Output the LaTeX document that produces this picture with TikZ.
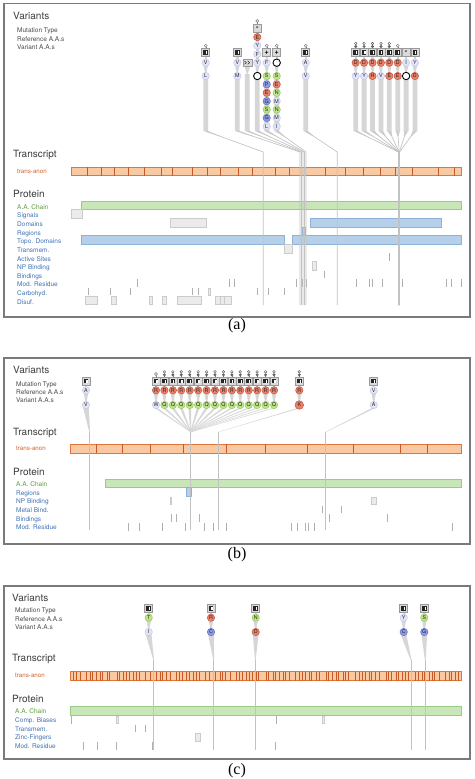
\documentclass[tikz,border=0pt]{standalone}
\usepackage{fontspec}
\setmainfont{TeX Gyre Heros}
\newfontfamily\capfont{Liberation Serif}
\definecolor{frameC}{HTML}{7A7A7A}
\definecolor{hdrC}{HTML}{3C3C3C}
\definecolor{subC}{HTML}{4A4A4A}
\definecolor{trkC}{HTML}{3F72B5}
\definecolor{chainC}{HTML}{5E9E3A}
\definecolor{txC}{HTML}{D35F28}
\definecolor{orF}{HTML}{F8C9A2}
\definecolor{orD}{HTML}{E0763A}
\definecolor{orDiv}{HTML}{C65A25}
\definecolor{grF}{HTML}{C8E6B8}
\definecolor{grD}{HTML}{98CC84}
\definecolor{blF}{HTML}{B7D0EA}
\definecolor{blD}{HTML}{8DB2DA}
\definecolor{gyF}{HTML}{EBEBEB}
\definecolor{gyD}{HTML}{CBCBCB}
\definecolor{featC}{HTML}{B0B0B0}
\definecolor{bandC}{HTML}{D6D6D6}
\definecolor{connC}{HTML}{C2C2C2}
\definecolor{redF}{HTML}{E9806A}
\definecolor{redD}{HTML}{C85840}
\definecolor{bluF}{HTML}{8E9CE8}
\definecolor{bluD}{HTML}{5D6DCC}
\definecolor{ltF}{HTML}{E2E5F8}
\definecolor{ltD}{HTML}{C3C8EC}
\definecolor{gnF}{HTML}{BFE58C}
\definecolor{gnD}{HTML}{98C95C}
\definecolor{boxF}{HTML}{DADADA}
\definecolor{boxD}{HTML}{9A9A9A}
\definecolor{pinC}{HTML}{7A7A7A}
\tikzset{
 panelframe/.style={draw=frameC, line width=1.2pt},
 captext/.style={font=\capfont\fontsize{16}{16}\selectfont},
 hdr/.style={anchor=west, inner sep=0pt, text height=7.4pt, text depth=2pt, text=hdrC, font=\fontsize{10}{10}\selectfont},
 sublab/.style={anchor=west, inner sep=0pt, text height=4.8pt, text depth=1.4pt, text=subC, font=\fontsize{6.5}{6.5}\selectfont},
 trk/.style={sublab, text=trkC},
 chn/.style={sublab, text=chainC},
 txl/.style={sublab, text=txC, font=\fontsize{6.2}{6.2}\selectfont},
 tbar/.style={fill=orF, draw=orD, line width=0.8pt},
 tdiv/.style={draw=orDiv, line width=0.6pt},
 chainbar/.style={fill=grF, draw=grD, line width=0.6pt},
 bluebox/.style={fill=blF, draw=blD, line width=0.6pt},
 graybox/.style={fill=gyF, draw=gyD, line width=0.5pt},
 feat/.style={draw=featC, line width=0.7pt},
 conn/.style={draw=connC, line width=0.65pt},
 aa/.style={circle, inner sep=0pt, minimum size=7.4pt, line width=0.5pt, text=black!85, font=\fontsize{5.3}{5.3}\selectfont},
 aar/.style={aa, fill=redF, draw=redD},
 aab/.style={aa, fill=bluF, draw=bluD},
 aal/.style={aa, fill=ltF, draw=ltD},
 aag/.style={aa, fill=gnF, draw=gnD},
 aad/.style={aa, fill=white, draw=black, line width=0.9pt},
 mbx/.style={rectangle, inner sep=0pt, minimum size=8pt, fill=boxF, draw=boxD, line width=0.5pt, font=\bfseries\fontsize{7}{7}\selectfont},
}
\newcommand\AAc[4]{\node[aa#1] at (#2,#3) {#4};}
\newcommand\MTs[2]{\fill[boxF, draw=boxD, line width=0.5pt] (#1-4,#2-4) rectangle (#1+4,#2+4);
 \fill[black!85] (#1-2.3,#2-2.3) rectangle (#1+2.3,#2+2.3);
 \fill[white] (#1+0.2,#2-1.5) rectangle (#1+1.5,#2+1.5);}
\newcommand\MTt[3]{\node[mbx] at (#1,#2) {#3};}
\newcommand\PinL[2]{\draw[pinC, line width=0.4pt] (#1,#2-4) -- (#1,#2-5.6);
 \draw[pinC, fill=white, line width=0.45pt] (#1,#2-7) circle[radius=1.5pt];}
\newcommand\PinD[2]{\draw[pinC, line width=0.4pt] (#1,#2-4) -- (#1,#2-5);
 \fill[pinC!80!black] (#1,#2-6.2) circle[radius=1.6pt];
 \draw[pinC!80!black, fill=white, line width=0.45pt] (#1,#2-9.2) circle[radius=1.3pt];}
\newcommand\Stem[4]{\fill[bandC] (#1-1.2,#2) rectangle (#1+1.2,#3);
 \fill[bandC] (#1-2.8,#3) -- (#1+2.8,#3) -- (#1,#4) -- cycle;}
\newcommand\ConnA[3]{\pgfmathsetmacro\xq{#1+(#3-#1)*5/21}
 \fill[bandC] (#1-2.4,#2) -- (#1+2.4,#2) -- (#1+2.4,131) -- (\xq+0.5,136) -- (\xq-0.5,136) -- (#1-2.4,131) -- cycle;
 \draw[conn] (#1,131) -- (#3,152) -- (#3,305);}
\newcommand\ConnW[6]{\fill[bandC] (#1-#3,#2) -- (#1+#3,#2) -- (#4+0.4,#5) -- (#4-0.4,#5) -- cycle;
 \draw[conn] (#4,#5) -- (#4,#6);}
\begin{document}
\begin{tikzpicture}[x=1pt,y=-1pt]
\useasboundingbox (0,0) rectangle (474,779);
\fill[white] (0,0) rectangle (474,779);
% ================= frames and captions
\draw[panelframe] (4,3.5) rectangle (470,317);
\draw[panelframe] (4,358) rectangle (470,544);
\draw[panelframe] (4,586) rectangle (470,759);
\node[captext] (capa) at (237,326) {(a)};
\node[captext] (capb) at (237,555) {(b)};
\node[captext] (capc) at (237,770.5) {(c)};
% ================= PANEL A
\node[hdr] at (13,17) {Variants};
\node[sublab] at (17,31) {Mutation Type};
\node[sublab] at (17,39.3) {Reference A.A.s};
\node[sublab] at (17,47.7) {Variant A.A.s};
\node[hdr] at (13,154.7) {Transcript};
\node[txl] at (17,171.5) {trans-anon};
\node[hdr] at (13,195) {Protein};
\node[chn] at (17,207.6) {A.A. Chain};
\foreach \t [count=\k] in {Signals,Domains,Regions,Topo. Domains,Transmem.,Active Sites,NP Binding,Bindings,Mod. Residue,Carbohyd.,Disuf.}
  \node[trk] at (17,207.6+8.63*\k) {\t};
% transcript bar
\draw[tbar] (71,167) rectangle (461,175.5);
\foreach \x in {87.3,101,114.3,128.7,144.3,161.7,172.7,192.3,207.3,220.3,238.3,252.3,275.3,289.3,325,345.3,363.7,380.3,395.7,412.7,438.7,454.7}
  \draw[tdiv] (\x,167) -- (\x,175.5);
% tracks
\draw[chainbar] (81,201) rectangle (461,209.6);
\draw[graybox] (71,209.6) rectangle (82,218.3);
\draw[graybox] (170,218.3) rectangle (206,226.9);
\draw[bluebox] (310,218.3) rectangle (441,226.9);
\draw[bluebox] (302,226.9) rectangle (305.3,235.5);
\draw[bluebox] (81,235.5) rectangle (284,244.2);
\draw[bluebox] (292,235.5) rectangle (461,244.2);
\draw[graybox] (284,244.2) rectangle (292,252.8);
\draw[feat] (389,253.3) -- (389,261);
\draw[graybox] (312,261.4) rectangle (316,270);
\draw[feat] (324,270.5) -- (324,278.2);
\foreach \x in {137,229,234,296,302,304,306,356,369,372,382,402,446,451,461}
  \draw[feat] (\x,279.2) -- (\x,286.8);
\foreach \x in {88,110,130,192,198,257,268,284}
  \draw[feat] (\x,287.8) -- (\x,295.4);
\draw[graybox] (208.3,287.8) rectangle (210,295.4);
\foreach \a/\b in {85/97,111/116,149/152,162/166,177/201,215/231}
  \draw[graybox] (\a,296.4) rectangle (\b,304.5);
\draw[gyD, line width=0.4pt] (220,296.4) -- (220,304.5) (224,296.4) -- (224,304.5);
% connectors
\Stem{205.7}{52.7}{62.7}{76} \ConnA{205.7}{76}{263.3}
\Stem{237.3}{52.7}{62.7}{76} \ConnA{237.3}{76}{300}
\fill[bandC] (247.3-2.8,66) -- (247.3+2.8,66) -- (247.3,76) -- cycle; \ConnA{247.3}{74}{301.5}
\Stem{257.3}{28}{62.7}{76} \ConnA{257.3}{76}{303}
\Stem{266.7}{52.7}{62.7}{76} \ConnA{266.7}{76}{304.5}
\Stem{276.7}{52.7}{62.7}{76} \ConnA{276.7}{76}{306}
\Stem{305.7}{52.7}{62.7}{76} \ConnA{305.7}{76}{337.3}
\foreach \x/\t in {355.7/398.5,364.1/398.7,372.5/398.9,380.9/399,389.3/399.1,397.7/399.2,406.1/399.4,414.9/399.6}
  {\Stem{\x}{52.7}{62.7}{76} \ConnA{\x}{76}{\t}}
% glyph columns
\PinL{205.7}{52.7} \MTs{205.7}{52.7} \AAc{l}{205.7}{62.7}{V} \AAc{l}{205.7}{76}{L}
\MTs{237.3}{52.7} \AAc{l}{237.3}{62.7}{V} \AAc{l}{237.3}{76}{M}
\node[mbx, minimum width=9pt, minimum height=7pt, font=\bfseries\fontsize{5.5}{5.5}\selectfont] at (247.3,62.7) {>{}>};
\PinL{257.3}{28} \MTt{257.3}{28}{-}
\AAc{r}{257.3}{37.1}{E} \AAc{l}{257.3}{45.6}{Y} \AAc{l}{257.3}{54.1}{F} \AAc{l}{257.3}{62.7}{Y}
\AAc{d}{257.3}{76}{·}
\PinL{266.7}{52.7} \MTt{266.7}{52.7}{+} \AAc{l}{266.7}{62.7}{F}
\foreach \c/\l [count=\k from 0] in {g/S,b/P,r/E,b/G,g/S,b/G,l/L}
  {\AAc{\c}{266.7}{76+8.4*\k}{\l}}
\PinL{276.7}{52.7} \MTt{276.7}{52.7}{+} \AAc{d}{276.7}{62.7}{·}
\foreach \c/\l [count=\k from 0] in {g/S,r/E,g/N,l/M,g/N,l/M,l/I}
  {\AAc{\c}{276.7}{76+8.4*\k}{\l}}
\PinL{305.7}{52.7} \MTs{305.7}{52.7} \AAc{l}{305.7}{62.7}{A} \AAc{l}{305.7}{76}{V}
\foreach \x/\vc/\vl in {355.7/l/Y,364.1/l/Y,372.5/r/H,380.9/l/V,389.3/r/E}
  {\PinD{\x}{52.7} \MTs{\x}{52.7} \AAc{r}{\x}{62.7}{D} \AAc{\vc}{\x}{76}{\vl}}
\PinL{397.7}{52.7} \MTs{397.7}{52.7} \AAc{r}{397.7}{62.7}{D} \AAc{r}{397.7}{76}{E}
\MTt{406.1}{52.7}{-} \AAc{l}{406.1}{62.7}{I} \AAc{d}{406.1}{76}{·}
\MTs{414.9}{52.7} \AAc{l}{414.9}{62.7}{Y} \AAc{r}{414.9}{76}{D}
% ================= PANEL B
\node[hdr] at (13,371) {Variants};
\node[sublab] at (16,384.3) {Mutation Type};
\node[sublab] at (16,392.7) {Reference A.A.s};
\node[sublab] at (16,401) {Variant A.A.s};
\node[hdr] at (13,432.3) {Transcript};
\node[txl] at (16,449) {trans-anon};
\node[hdr] at (13,472.3) {Protein};
\node[chn] at (16,484.8) {A.A. Chain};
\foreach \t [count=\k] in {Regions,NP Binding,Metal Bind.,Bindings,Mod. Residue}
  \node[trk] at (16,484.8+8.66*\k) {\t};
\draw[tbar] (70.7,444) rectangle (461,453.3);
\foreach \x in {96,122.3,150.7,183.3,226.7,265.7,307.3,353.3,400.7,427.7}
  \draw[tdiv] (\x,444) -- (\x,453.3);
\draw[chainbar] (105,479) rectangle (461,487.7);
\draw[bluebox] (186,487.7) rectangle (191.3,496.3);
\draw[graybox] (170,496.8) rectangle (171.6,504.5);
\draw[graybox] (371,496.8) rectangle (376.7,504.5);
\foreach \x in {322,341.3} \draw[feat] (\x,505.5) -- (\x,513.2);
\foreach \x in {171.3,176,199.3,329.3,387.3} \draw[feat] (\x,514.2) -- (\x,521.8);
\foreach \x in {128.7,139.7,162.3,185.3,204.7,213.7,226,291.7,297.7,305.3,308,314,452.3} \draw[feat] (\x,522.8) -- (\x,530.5);
% connectors
\Stem{86}{381}{390.3}{405} \ConnW{86}{408}{2.8}{89.7}{432}{530}
\foreach \i in {0,...,14}{\pgfmathsetmacro\xg{156+8.43*\i}
  \Stem{\xg}{381}{390.3}{405} \ConnW{\xg}{408}{1.3}{190.7}{432}{530}}
\Stem{299.3}{381}{390.3}{405} \ConnW{299.3}{408}{1.6}{218.3}{432}{530}
\Stem{373.7}{381}{390.3}{405} \ConnW{373.7}{408}{1.6}{325.7}{432}{530}
% glyphs
\MTs{86}{381} \AAc{l}{86}{390.3}{A} \AAc{l}{86}{405}{V}
\foreach \i in {0,...,14}{\pgfmathsetmacro\xg{156+8.43*\i}
  \ifnum\i=0 \PinL{\xg}{381} \AAc{l}{\xg}{405}{W}\else \PinD{\xg}{381} \AAc{g}{\xg}{405}{Q}\fi
  \MTs{\xg}{381} \AAc{r}{\xg}{390.3}{R}}
\PinD{299.3}{381} \MTs{299.3}{381} \AAc{r}{299.3}{390.3}{R}
\node[aar, minimum size=8.6pt] at (299.3,405) {K};
\MTs{373.7}{381} \AAc{l}{373.7}{390.3}{V} \AAc{l}{373.7}{405}{A}
% ================= PANEL C
\node[hdr] at (12,598.3) {Variants};
\node[sublab] at (15,611) {Mutation Type};
\node[sublab] at (15,619.5) {Reference A.A.s};
\node[sublab] at (15,628) {Variant A.A.s};
\node[hdr] at (12,659) {Transcript};
\node[txl] at (15,676) {trans-anon};
\node[hdr] at (12,700) {Protein};
\node[chn] at (15,712.1) {A.A. Chain};
\foreach \t [count=\k] in {Comp. Biases,Transmem.,Zinc-Fingers,Mod. Residue}
  \node[trk] at (15,712.1+8.66*\k) {\t};
\draw[tbar] (70,671.7) rectangle (461.7,680.7);
\foreach \i in {1,...,117}{\pgfmathtruncatemacro\mm{mod(\i,9)}
  \ifnum\mm=4 \else \pgfmathsetmacro\xx{70+\i*3.32+0.6*sin(\i*137)}
  \draw[tdiv] (\xx,671.7) -- (\xx,680.7);\fi}
\draw[chainbar] (70,706.7) rectangle (461.7,715.3);
\foreach \x in {71,276} \draw[feat] (\x,715.8) -- (\x,723.5);
\draw[graybox] (116,715.8) rectangle (117.8,723.5);
\draw[graybox] (322.5,715.8) rectangle (324.2,723.5);
\foreach \x in {135,145.7} \draw[feat] (\x,724.5) -- (\x,732.2);
\draw[graybox] (195,733.2) rectangle (200.7,741);
\foreach \x in {83.7,97.3,116.7,152.7,275.3} \draw[feat] (\x,741.8) -- (\x,749.5);
% connectors and glyphs
\foreach \x/\t/\rc/\rl/\vc/\vl in {148.7/153.7/g/T/l/I,211/213.7/r/R/b/C,255.7/255.3/g/N/r/D,403.7/411/l/Y/b/C,424.3/425.3/g/S/b/G}
 {\Stem{\x}{608.3}{617.7}{632} \ConnW{\x}{635}{2.8}{\t}{660}{750}
  \MTs{\x}{608.3} \AAc{\rc}{\x}{617.7}{\rl} \AAc{\vc}{\x}{632}{\vl}}
\end{tikzpicture}
\end{document}
